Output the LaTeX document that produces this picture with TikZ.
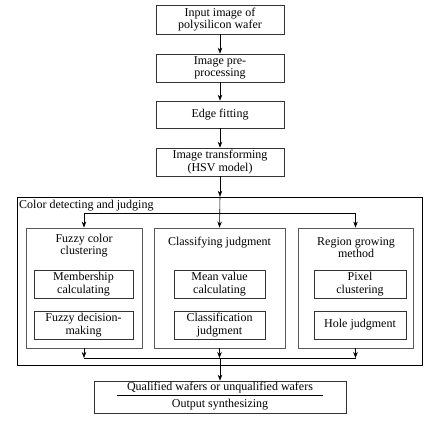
\documentclass[tikz,border=0pt]{standalone}
\usepackage{fontspec}
\setmainfont{Liberation Serif}
\usetikzlibrary{arrows.meta}

\tikzset{
  stepbox/.style={draw=black!80, line width=.7pt, align=center, inner sep=.5pt},
  colbox/.style={draw=black!65, line width=.9pt},
  arr/.style={-{Stealth[length=6pt,width=4.5pt]}, line width=.6pt}
}

\begin{document}
\begin{tikzpicture}[x=1pt,y=1pt,font=\fontsize{12}{12.5}\selectfont]
    \useasboundingbox (0,0) rectangle (447,-421);
    % Draw the main steps
    \node[stepbox, minimum width=128, minimum height=29] (inp) at (220,-19.5) {Input image of\\polysilicon wafer};
    \node[stepbox, minimum width=128, minimum height=28] (pre) at (220,-68) {Image pre-\\processing};
    \node[stepbox, minimum width=128, minimum height=27] (edg) at (220,-114.5) {Edge fitting};
    \node[stepbox, minimum width=128, minimum height=28] (trf) at (220,-162) {Image transforming\\(HSV model)};
    \foreach \a/\b in {inp/pre, pre/edg, edg/trf}{
      \draw[arr] (\a.south) -- (\b.north);
    }
    % Draw the outer box and its title
    \node[draw, line width=.6pt, minimum width=405, minimum height=168] (cdj) at (219.5,-281) {};
    \node[anchor=west, inner sep=0pt] (cdjt) at (19,-206) {Color detecting and judging};
    % Draw the three methods
    \node[colbox, minimum width=116, minimum height=120] (fcc) at (84,-288) {};
    \node[colbox, minimum width=131, minimum height=120] (cj) at (219.5,-288) {};
    \node[colbox, minimum width=115, minimum height=120] (rgm) at (355.5,-288) {};
    \node[align=center, inner sep=0pt] (fcct) at (84,-245.5) {Fuzzy color\\clustering};
    \node[inner sep=0pt] (cjt) at (219.5,-243) {Classifying judgment};
    \node[align=center, inner sep=0pt] (rgmt) at (356,-247.5) {Region growing\\method};
    \foreach \n/\x/\w/\t/\s in {mc/83.5/99/Membership\\calculating/Fuzzy decision-\\making,
        mv/219.5/91/Mean value\\calculating/Classification\\judgment,
        pc/360/92/Pixel\\clustering/Hole judgment}{
      \node[stepbox, minimum width=\w, minimum height=28] (\n1) at (\x,-284) {\t};
      \node[stepbox, minimum width=\w, minimum height=28] (\n2) at (\x,-325) {\s};
    }
    % Draw the arrows into the methods
    \draw[arr] (trf.south) -- (trf.south |- cdj.north);
    \coordinate (split) at (220,-213);
    \draw[arr] (trf.south |- cdj.north) -- (cj.north);
    \draw[arr] (split) -| (fcc.north);
    \draw[arr] (split) -| (rgm.north);
    % Draw the arrows out of the methods
    \coordinate (merge) at (220,-358);
    \foreach \c in {fcc, cj, rgm}{
      \draw[arr] (\c.south) -- (\c.south |- merge);
    }
    \draw[line width=.6pt] (fcc.south |- merge) -- (rgm.south |- merge);
    % Draw the output
    \node[stepbox, minimum width=252, minimum height=32] (out) at (220,-397) {};
    \draw[arr] (merge) -- (out.north);
    \node[inner sep=0pt] (res) at (220,-387.5) {Qualified wafers or unqualified wafers};
    \node[inner sep=0pt] (osy) at (220,-405) {Output synthesizing};
    \draw[line width=.6pt] (117,-395) -- (323,-395);
\end{tikzpicture}
\end{document}
